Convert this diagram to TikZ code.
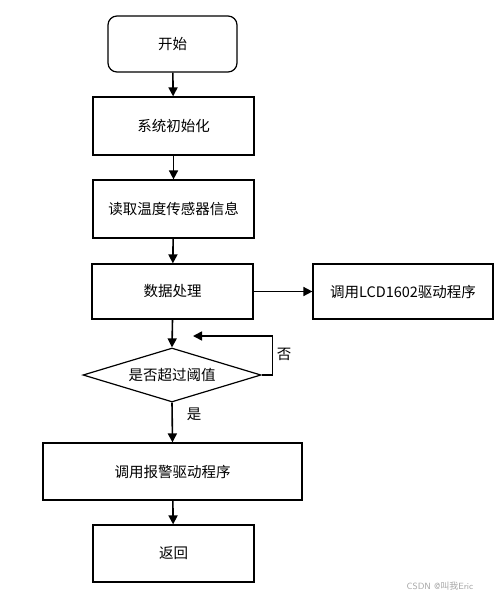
\documentclass[tikz,border=0pt]{standalone}
\usepackage{fontspec}
\newfontfamily\cjk{Noto Sans CJK SC}
\usetikzlibrary{arrows.meta,shapes.geometric}
\begin{document}
\begin{tikzpicture}[x=1pt,y=-1pt,font=\cjk\fontsize{14.5}{16}\selectfont,
    box/.style={draw,line width=1.2pt,inner sep=0pt},
    arr/.style={line width=1.6pt,-{Triangle[length=9pt,width=9pt]}}]
    \useasboundingbox (0,0) rectangle (499,602);
    \node (start) at (172.5,44) [box,rounded corners=9pt,minimum width=129pt,minimum height=56pt] {开始};
    \node (init) at (173.5,126) [box,minimum width=161pt,minimum height=58pt] {系统初始化};
    \node (read) at (173.5,209) [box,minimum width=161pt,minimum height=58pt] {读取温度传感器信息};
    \node (proc) at (172.5,291.5) [box,minimum width=161pt,minimum height=55pt] {数据处理};
    \node (lcd) at (403,291.5) [box,minimum width=180pt,minimum height=55pt] {调用LCD1602驱动程序};
    \node (check) at (172,375) [box,diamond,aspect=3.3,minimum width=178pt,minimum height=54pt] {是否超过阈值};
    \node (alarm) at (172.5,471.5) [box,minimum width=259pt,minimum height=57pt] {调用报警驱动程序};
    \node (ret) at (173.5,553.5) [box,minimum width=161pt,minimum height=57pt] {返回};
    \coordinate (loop) at (193,336);
    \draw[arr] (start) -- (init);
    \draw[arr] (init) -- (read);
    \draw[arr] (read) -- (proc);
    \draw[arr] (proc) -- (lcd);
    \draw[arr] (proc.south) -- (check.north);
    \draw[arr] (check.east) -- ++(11,0) |- (loop);
    \node (no) at (284,354) {否};
    \draw[arr] (check.south) -- (alarm.north);
    \node (yes) at (194,414) {是};
    \draw[arr] (alarm) -- (ret);
    \node (mark) at (440,586) [font=\sffamily\fontsize{9}{10}\selectfont,text=gray!70] {CSDN @{\cjk 叫我}Eric};
\end{tikzpicture}
\end{document}
